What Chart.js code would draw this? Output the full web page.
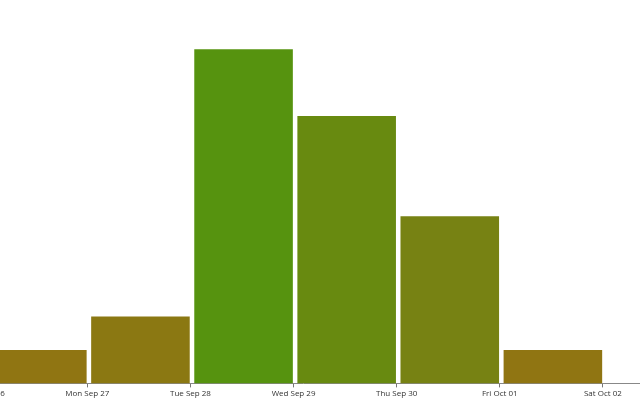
<!DOCTYPE html>
<html lang="en">
<head>
    <meta charset="UTF-8">
    <title>Daily counts</title>
    <script src="https://cdn.jsdelivr.net/npm/chart.js"></script>
    <style>
        html, body { margin: 0; padding: 0; background: #fff; overflow: hidden; }
        /* the view starts part way into Sep 26, so the plot runs off the left edge */
        #dailyChart { display: block; margin-left: -37px; }
    </style>
</head>
<body>
    <canvas id="dailyChart" width="680" height="400"></canvas>

    <script>
        // one entry per day, index 0 = Sun Sep 26
        const dayLabels = ['Sun Sep 26', 'Mon Sep 27', 'Tue Sep 28', 'Wed Sep 29', 'Thu Sep 30', 'Fri Oct 01', 'Sat Oct 02'];
        const dayValues = [1, 2, 10, 8, 5, 1];
        const barColors = ['#907512', '#8B7812', '#56930F', '#688A10', '#778213', '#907512'];

        // each bar covers its day, from its tick to the next one
        const barData = dayValues.map((v, i) => ({ x: i + 0.515, y: v }));

        const ctx = document.getElementById('dailyChart').getContext('2d');

        const dailyChart = new Chart(ctx, {
            type: 'bar',
            data: {
                datasets: [{
                    data: barData,
                    backgroundColor: barColors,
                    borderWidth: 0,
                    barPercentage: 0.956,
                    categoryPercentage: 1.0,
                }],
            },
            options: {
                responsive: false,
                animation: false,
                layout: { padding: { top: 0, left: 0, right: 0, bottom: -1 } },
                plugins: {
                    legend: { display: false },
                    tooltip: { enabled: false }
                },
                scales: {
                    x: {
                        type: 'linear',
                        offset: false,
                        min: -0.206,
                        max: 6.389,
                        grid: {
                            offset: false,
                            drawOnChartArea: false,
                            drawTicks: true,
                            tickLength: 4,
                            color: '#777'
                        },
                        border: { color: '#888', width: 1 },
                        ticks: {
                            stepSize: 1,
                            includeBounds: false,
                            autoSkip: false,
                            maxRotation: 0,
                            padding: 2,
                            color: '#333',
                            font: { family: 'Open Sans', size: 8 },
                            callback: (value) => dayLabels[value] ?? ''
                        },
                        afterFit: (scale) => {
                            scale.paddingLeft = 0;
                            scale.paddingRight = 0;
                        }
                    },
                    y: {
                        display: false,
                        min: 0,
                        max: 11.47
                    }
                }
            }
        });
    </script>
</body>
</html>
